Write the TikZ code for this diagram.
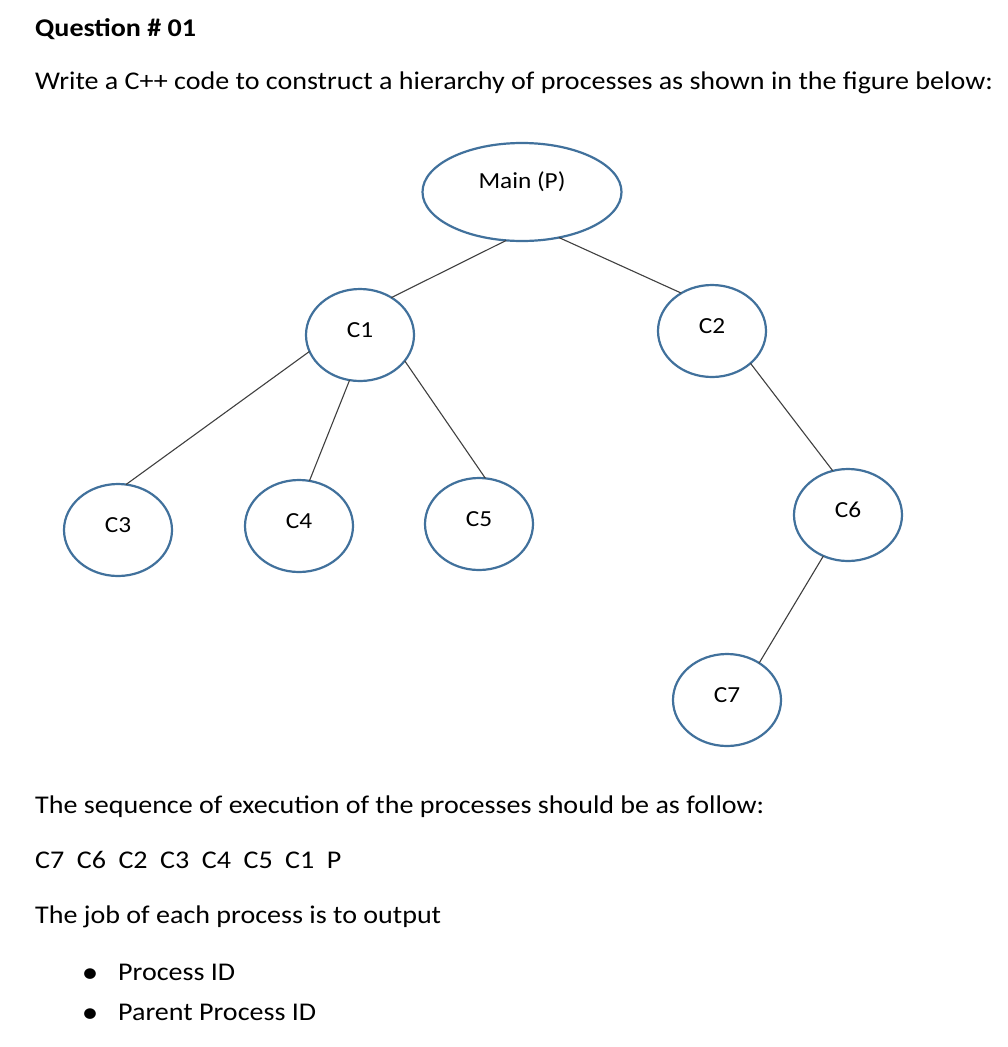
\documentclass[tikz,border=0pt]{standalone}
\usepackage{fontspec}
\setmainfont[FakeStretch=1.1]{Carlito}
\usetikzlibrary{shapes.geometric}
\definecolor{procblue}{HTML}{41719C}
\definecolor{linkgray}{HTML}{404040}
\begin{document}
\begin{tikzpicture}[x=1pt,y=-1pt,
  proc/.style={ellipse, draw=procblue, line width=2.2pt, fill=white, inner sep=0pt, outer sep=0pt,
    minimum width=108pt, minimum height=92pt, font=\fontsize{23}{28}\selectfont,
    text height=4pt, text depth=0pt},
  link/.style={draw=linkgray, line width=1.1pt},
  txt/.style={anchor=base west, inner sep=0pt, font=\fontsize{25.5}{30}\selectfont},
  bul/.style={anchor=base, inner sep=0pt, font=\fontsize{30}{30}\selectfont}]
\path[use as bounding box, fill=white] (0,0) rectangle (1008,1047);

\node[txt, font=\bfseries\fontsize{25.5}{30}\selectfont] (q) at (35,36) {Question \# 01};
\node[txt] (w) at (35,89) {Write a C++ code to construct a hierarchy of processes as shown in the figure below:};

\node[proc, minimum width=199pt, minimum height=98pt, text height=0pt, text depth=8pt] (P) at (522,192) {Main (P)};
\node[proc] (C1) at (360,335) {C1};
\node[proc] (C2) at (712,331) {C2};
\node[proc] (C3) at (118,530) {C3};
\node[proc] (C4) at (299,526) {C4};
\node[proc] (C5) at (479,524) {C5};
\node[proc] (C6) at (848,515) {C6};
\node[proc] (C7) at (727,700) {C7};

\draw[link] (P.252) -- (C1.50);
\draw[link] (P.309) -- (C2.129);
\draw[link] (C1.198) -- (C3.80);
\draw[link] (C1.257) -- (C4.77);
\draw[link] (C1.330) -- (C5.82);
\draw[link] (C2.320) -- (C6.109);
\draw[link] (C6.239) -- (C7.49);

\node[txt] (s) at (35,813) {The sequence of execution of the processes should be as follow:};
\node[txt] (o) at (35,868) {C7\hspace{12.5pt}C6\hspace{12.5pt}C2\hspace{12.5pt}C3\hspace{12.5pt}C4\hspace{12.5pt}C5\hspace{12.5pt}C1\hspace{12.5pt}P};
\node[txt] (j) at (35,923) {The job of each process is to output};
\node[bul] (b1) at (90,982) {•};
\node[txt] (i1) at (118,980) {Process ID};
\node[bul] (b2) at (90,1022) {•};
\node[txt] (i2) at (118,1020) {Parent Process ID};
\end{tikzpicture}
\end{document}
